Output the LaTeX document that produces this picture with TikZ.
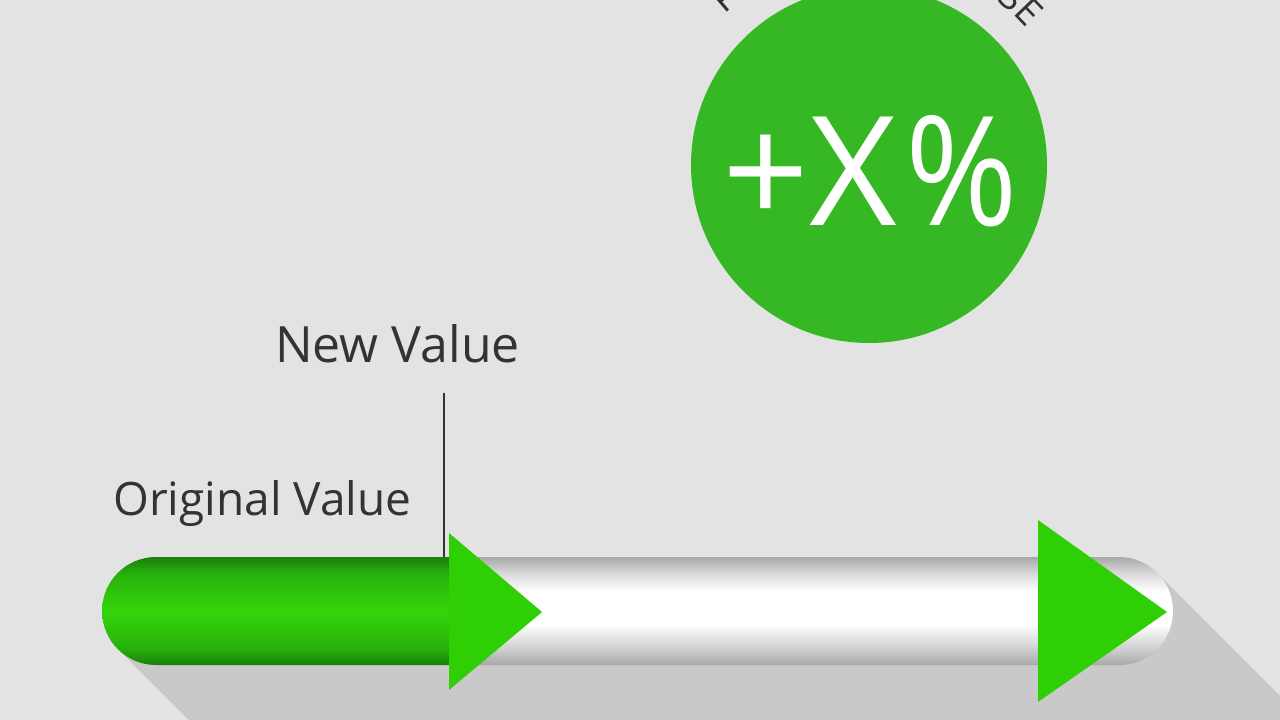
\documentclass[tikz,border=0pt]{standalone}
\usepackage{fontspec}
\setmainfont{Open Sans}
\usetikzlibrary{decorations.text}
\definecolor{bg}{HTML}{E3E3E3}
\definecolor{shadowgray}{HTML}{C9C9C9}
\definecolor{circgreen}{HTML}{35B824}
\definecolor{trigreen}{HTML}{2ED005}
\definecolor{textdark}{HTML}{333333}
\definecolor{tubedark}{HTML}{A8A8A8}
\definecolor{tubemid}{HTML}{D6D6D6}
\definecolor{gdark}{HTML}{1A800B}
\definecolor{gmid}{HTML}{28B20C}
\definecolor{gbright}{HTML}{33D50A}
\pgfdeclareverticalshading{tubeshade}{100bp}{color(0bp)=(tubedark); color(25bp)=(tubedark); color(34bp)=(tubemid); color(44bp)=(white); color(59bp)=(white); color(68bp)=(tubemid); color(75bp)=(tubedark); color(100bp)=(tubedark)}
\pgfdeclareverticalshading{barshade}{100bp}{color(0bp)=(gdark); color(25bp)=(gdark); color(33bp)=(gmid); color(50bp)=(gbright); color(67bp)=(gmid); color(75bp)=(gdark); color(100bp)=(gdark)}
\tikzset{
  label text/.style={text=textdark, inner sep=0pt},
  big text/.style={font=\fontsize{152}{160}\selectfont, text=white, inner sep=0pt},
  arrow head/.style={fill=trigreen},
  marker/.style={draw=textdark, line width=2pt}
}
\begin{document}
\begin{tikzpicture}[x=1pt,y=1pt]
\useasboundingbox (0,0) rectangle (1280,-720);
\clip (0,0) rectangle (1280,-720);
\fill[bg] (0,0) rectangle (1280,-720);
% long shadow
\fill[shadowgray] (118,-649) -- (189,-720) -- (1280,-720) -- (1280,-696) -- (1157,-573) -- cycle;
% circle
\fill[circgreen] (869,-165) circle[radius=178];
\node[big text, anchor=base] (pct) at (870,-225) {+X\hspace{8pt}\scalebox{0.9}[1]{\%}};
% curved text
\path[decorate, decoration={text along path, text align=fit to path,
  text={|\fontsize{37}{40}\selectfont\color{textdark}|PERCENT INCREASE}}]
  (725.1,-14.8) arc[start angle=133.8, end angle=41, radius=208];
% tube
\shade[shading=tubeshade] (444,-557) -- (1119,-557) arc[start angle=90, end angle=-90, radius=54] -- (444,-665) -- cycle;
% green bar
\shade[shading=barshade] (450,-557) -- (156,-557) arc[start angle=90, end angle=270, radius=54] -- (450,-665) -- cycle;
% arrow heads
\fill[arrow head] (449,-533) -- (542,-612) -- (449,-690) -- cycle;
\fill[arrow head] (1038,-520) -- (1167,-612) -- (1038,-702) -- cycle;
% labels
\node[label text, font=\fontsize{50}{54}\selectfont, anchor=base west] (newv) at (275,-362) {New Value};
\node[label text, font=\fontsize{46}{50}\selectfont, anchor=base west] (origv) at (113,-515) {Original Value};
\coordinate (mtop) at (444,-393);
\coordinate (mbot) at (444,-557);
\draw[marker] (mtop) -- (mbot);
\end{tikzpicture}
\end{document}
